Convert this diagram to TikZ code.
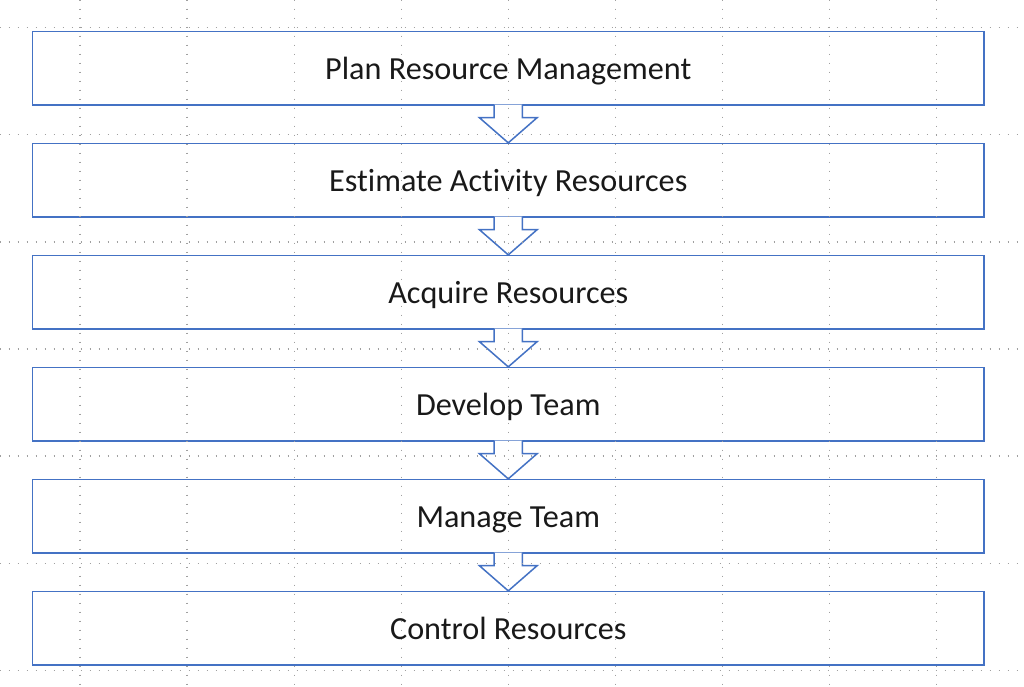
\documentclass[tikz,border=0pt]{standalone}
\usepackage{fontspec}
\setmainfont[Ligatures={NoCommon,NoRare}]{Carlito}
\usetikzlibrary{positioning,calc}

\definecolor{officeblue}{RGB}{68,114,196}
\definecolor{gridgray}{RGB}{160,160,160}

\tikzset{
    stepbox/.style={draw=officeblue, line width=1.5pt, minimum width=951.5pt,
        minimum height=73.5pt, inner sep=0pt, text=black!90,
        font=\fontsize{32.2}{38}\selectfont, text height=27pt, text depth=5.3pt},
    flowarrow/.style={draw=officeblue, fill=white, line width=1.5pt, line join=miter},
    gridline/.style={gridgray, line width=1.3pt, dash pattern=on 1.3pt off 7.7pt}
}

\begin{document}
\begin{tikzpicture}[x=1pt,y=-1pt]

    % --- Page frame (pixel units, y grows downwards) ---
    \useasboundingbox (0,0) rectangle (1024,686);

    % --- Process steps ---
    \node[stepbox] (plan) at (508.25,68.35) {Plan Resource Management};
    \node[stepbox, below=37pt of plan] (estimate) {Estimate Activity Resources};
    \node[stepbox, below=37pt of estimate] (acquire) {Acquire Resources};
    \node[stepbox, below=37pt of acquire] (develop) {Develop Team};
    \node[stepbox, below=37pt of develop] (manage) {Manage Team};
    \node[stepbox, below=37pt of manage] (control) {Control Resources};

    % --- Block arrows between the steps ---
    % open outline: the fill closes it and hides the box edge under the shaft
    \foreach \a/\b in {plan/estimate, estimate/acquire, acquire/develop,
                       develop/manage, manage/control}{
        \filldraw[flowarrow] ($(\a.south)+(-14.2,-1.2)$) -- ($(\a.south)+(-14.2,11.7)$)
            -- ($(\a.south)+(-29,11.7)$) -- (\b.north)
            -- ($(\a.south)+(29,11.7)$) -- ($(\a.south)+(14.2,11.7)$)
            -- ($(\a.south)+(14.2,-1.2)$);
    }

    % --- Dotted guide grid on top ---
    \foreach \i in {0,...,8}
        \draw[gridline, dash phase=0.5pt] ({80+107.1*\i},0) -- ++(0,686);
    \foreach \j in {0,...,6}
        \draw[gridline, dash phase=0.5pt] (0,{27.7+107.1*\j}) -- ++(1024,0);

\end{tikzpicture}
\end{document}
